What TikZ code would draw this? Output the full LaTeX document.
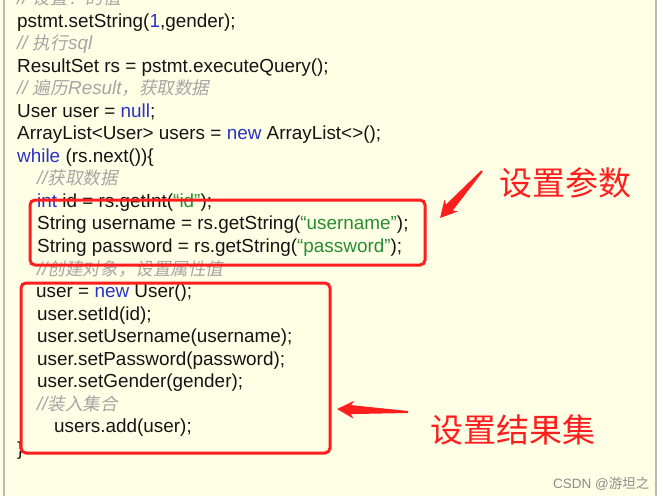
\documentclass[tikz,border=0pt]{standalone}
\usepackage{fontspec}
\setmainfont{Liberation Sans}
\newfontfamily\cjk{Noto Sans CJK SC}
\newfontfamily\cjkit[FakeSlant=0.2,Scale=0.93]{Noto Sans CJK SC}
\usetikzlibrary{calc}
\definecolor{paper}{RGB}{255,255,230}
\definecolor{edgegray}{RGB}{185,185,185}
\definecolor{codeblack}{RGB}{20,20,20}
\definecolor{kwblue}{RGB}{40,50,200}
\definecolor{strgreen}{RGB}{40,140,50}
\definecolor{cmtgray}{RGB}{165,165,165}
\definecolor{boxred}{RGB}{255,30,30}
\newcommand{\zh}[1]{{\cjkit\upshape #1}}
\newcommand{\kwd}[1]{\textcolor{kwblue}{#1}}
\newcommand{\strg}[1]{\textcolor{strgreen}{#1}}
\tikzset{
  codeline/.style={anchor=base west, inner sep=0pt, text=codeblack, font=\fontsize{18.9}{22}\selectfont},
  cmtline/.style={codeline, text=cmtgray, font=\fontsize{18.9}{22}\selectfont\itshape},
  redbox/.style={draw=boxred, line width=3pt, rounded corners=5pt, inner sep=0pt},
  redlabel/.style={text=boxred, inner sep=0pt, font=\cjk\fontsize{33}{33}\selectfont},
  arrowred/.style={fill=boxred},
}
\begin{document}
\begin{tikzpicture}[x=1pt,y=-1pt]
        \useasboundingbox (0,0) rectangle (663,496);
        \clip (0,0) rectangle (663,496);
        % page and frame
        \fill[paper] (0,0) rectangle (663,496);
        \fill[white!95!paper] (657,0) rectangle (663,496);
        \draw[edgegray, line width=1.5pt] (4,0) -- (4,496);
        \draw[edgegray, line width=2.5pt] (656,0) -- (656,496);
        % code
        \node[cmtline] (l0) at (17,4.45) {// \zh{设置？的值}};
        \node[codeline] (l1) at (17,27) {pstmt.setString(\kwd{1},gender);};
        \node[cmtline] (l2) at (17,49.55) {// \zh{执行}sql};
        \node[codeline] (l3) at (17,72.1) {ResultSet rs = pstmt.executeQuery();};
        \node[cmtline] (l4) at (17,94.65) {// \zh{遍历}Result\zh{，获取数据}};
        \node[codeline] (l5) at (17,117.2) {User user = \kwd{null};};
        \node[codeline] (l6) at (17,139.75) {ArrayList<User> users = \kwd{new} ArrayList<>();};
        \node[codeline] (l7) at (17,162.3) {\kwd{while} (rs.next())\{};
        \node[cmtline] (l8) at (37,184.85) {//\zh{获取数据}};
        \node[codeline] (l9) at (37,207.4) {\kwd{int} id = rs.getInt(\strg{“id”});};
        \node[codeline] (l10) at (37,229.95) {String username = rs.getString(\strg{“username”});};
        \node[codeline] (l11) at (37,252.5) {String password = rs.getString(\strg{“password”});};
        \node[cmtline] (l12) at (37,275.05) {//\zh{创建对象，设置属性值}};
        \node[codeline] (l13) at (36,297.6) {user = \kwd{new} User();};
        \node[codeline] (l14) at (37,320.15) {user.setId(id);};
        \node[codeline] (l15) at (37,342.7) {user.setUsername(username);};
        \node[codeline] (l16) at (37,365.25) {user.setPassword(password);};
        \node[codeline] (l17) at (37,387.8) {user.setGender(gender);};
        \node[cmtline] (l18) at (37,410.35) {//\zh{装入集合}};
        \node[codeline] (l19) at (54,432.9) {users.add(user);};
        \node[codeline] (l20) at (17,455.45) {\}};
        % red marks
        \node[redbox, minimum width=395pt, minimum height=65pt] (params) at (227.5,232.5) {};
        \node[redbox, minimum width=309pt, minimum height=170pt] (results) at (175.5,368) {};
        \node[redlabel] (paramlabel) at (565,183) {设置参数};
        \node[redlabel] (resultlabel) at (513,430) {设置结果集};
        \coordinate (a1tail) at (482,171);
        \coordinate (a1tip) at (440,218);
        \coordinate (a2tail) at (408,412);
        \coordinate (a2tip) at (337,409);
        \fill[arrowred] (a1tip) -- ($(a1tip)!17pt!(a1tail)!9pt!90:(a1tail)$) -- ($(a1tip)!14pt!(a1tail)!4.5pt!90:(a1tail)$) -- ($(a1tail)!1pt!-90:(a1tip)$) -- ($(a1tail)!1pt!90:(a1tip)$) -- ($(a1tip)!14pt!(a1tail)!4.5pt!-90:(a1tail)$) -- ($(a1tip)!17pt!(a1tail)!9pt!-90:(a1tail)$) -- cycle;
        \fill[arrowred] (a2tip) -- ($(a2tip)!17pt!(a2tail)!9pt!90:(a2tail)$) -- ($(a2tip)!14pt!(a2tail)!4.5pt!90:(a2tail)$) -- ($(a2tail)!1pt!-90:(a2tip)$) -- ($(a2tail)!1pt!90:(a2tip)$) -- ($(a2tip)!14pt!(a2tail)!4.5pt!-90:(a2tail)$) -- ($(a2tip)!17pt!(a2tail)!9pt!-90:(a2tail)$) -- cycle;
        % watermark
        \node[anchor=base west, inner sep=0pt, text=cmtgray!85!black, font=\fontsize{13.5}{14}\selectfont] (mark) at (553,488) {CSDN @{\cjk 游坦之}};
\end{tikzpicture}
\end{document}
